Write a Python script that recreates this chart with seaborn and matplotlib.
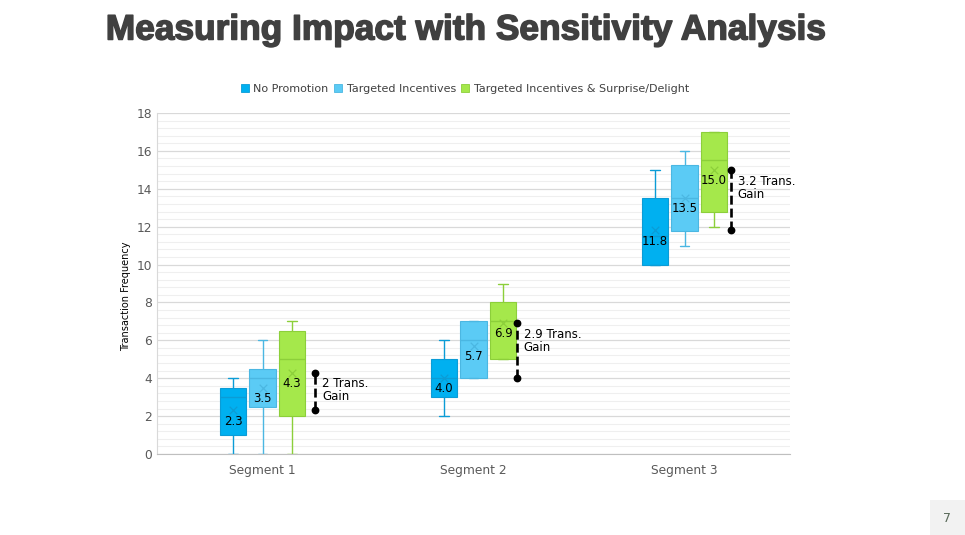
import numpy as np
import pandas as pd
import matplotlib.pyplot as plt
import matplotlib.patheffects as pe
import seaborn as sns
from matplotlib.patches import Patch, Rectangle
from matplotlib.ticker import MultipleLocator

SEGMENTS = ["Segment 1", "Segment 2", "Segment 3"]
GROUPS = ["No Promotion", "Targeted Incentives", "Targeted Incentives & Surprise/Delight"]
COLORS = ["#00B0F0", "#5BCBF5", "#A5E84B"]
EDGE_COLORS = ["#0B9CD6", "#4BB7E2", "#8CCF3A"]

# five-number summaries: min, q1, median, q3, max
NO_PROMO = [[0, 1, 3, 3.5, 4], [2, 3, 4, 5, 6], [10, 10, 11.5, 13.5, 15]]
TARGETED = [[0, 2.5, 4, 4.5, 6], [4, 4, 6, 7, 7], [11, 11.75, 13.5, 15.25, 16]]
SURPRISE = [[0, 2, 5, 6.5, 7], [5, 5, 7, 8, 9], [12, 12.75, 15.5, 17, 17]]

MEANS_NO_PROMO = [2.3, 4.0, 11.8]
MEANS_TARGETED = [3.5, 5.7, 13.5]
MEANS_SURPRISE = [4.3, 6.9, 15.0]

GAINS = ["2", "2.9", "3.2"]

rows = []
for group, summaries in zip(GROUPS, [NO_PROMO, TARGETED, SURPRISE]):
    for seg, vals in zip(SEGMENTS, summaries):
        for v in vals:
            rows.append({"Segment": seg, "Group": group, "Value": v})
df = pd.DataFrame(rows)

sns.set_style("white")
plt.rcParams["font.family"] = ["DejaVu Sans"]

fig = plt.figure(figsize=(9.65, 5.35), dpi=100)
ax = fig.add_axes([157 / 965, 1 - 454 / 535, 633 / 965, 341 / 535])

sns.boxplot(data=df, x="Segment", y="Value", hue="Group", order=SEGMENTS,
            hue_order=GROUPS, palette=COLORS, saturation=1, width=0.42, gap=0.1,
            whis=(0, 100), linewidth=0.9, showfliers=False, legend=False, ax=ax)

# recolour outlines per group and put the mean markers on the box centres
all_means = [MEANS_NO_PROMO, MEANS_TARGETED, MEANS_SURPRISE]
for cont, edge, means in zip(ax.containers, EDGE_COLORS, all_means):
    for box in cont.boxes:
        box.set_edgecolor(edge)
        box.set_linewidth(0.8)
    for line in list(cont.whiskers) + list(cont.medians):
        line.set_color(edge)
        line.set_linewidth(1.0)
    for cap in cont.caps:
        cap.set_color(edge)
        cap.set_linewidth(1.0)
        cx = np.asarray(cap.get_xdata(), dtype=float)
        mid = cx.mean()
        cap.set_xdata(mid + (cx - mid) * 0.75)
    xs = []
    for box in cont.boxes:
        v = box.get_path().vertices[:, 0]
        xs.append((v.min() + v.max()) / 2)
    ax.scatter(xs, means, marker="x", s=30, color=edge, linewidths=0.9, zorder=5)
    for x, m in zip(xs, means):
        ax.annotate(f"{m:.1f}", (x, m), xytext=(0, -3), textcoords="offset points",
                    ha="center", va="top", fontsize=8.5, color="black", zorder=6)

# gain markers between no-promotion mean and full-programme mean
gain_offsets = [0.25, 0.205, 0.22]
for i, (low, high, gain) in enumerate(zip(MEANS_NO_PROMO, MEANS_SURPRISE, GAINS)):
    x = i + gain_offsets[i]
    ax.plot([x, x], [low, high], color="black", lw=1.9, linestyle=(0, (3.4, 1.5)), zorder=6)
    ax.plot([x, x], [low, high], "o", ms=4.6, color="black", zorder=7)
    ax.annotate(f"{gain} Trans.\nGain", (x, high), xytext=(5, -3.5),
                textcoords="offset points", ha="left", va="top", fontsize=8.5,
                color="black", linespacing=1.0)

ax.set_xlim(-0.5, 2.5)
ax.set_ylim(0, 18)
ax.yaxis.set_major_locator(MultipleLocator(2))
ax.yaxis.set_minor_locator(MultipleLocator(0.4))
ax.grid(which="major", axis="y", color="#d9d9d9", lw=0.9)
ax.grid(which="minor", axis="y", color="#efefef", lw=0.8)
ax.set_axisbelow(True)
ax.tick_params(axis="both", which="both", length=0, labelsize=8.8, labelcolor="#595959")
ax.tick_params(axis="x", pad=7)
ax.set_xlabel("")
ax.set_ylabel("Transaction Frequency", fontsize=7, color="black")
ax.yaxis.set_label_coords(-0.041, 0.463)
for side in ["top", "right"]:
    ax.spines[side].set_visible(False)
ax.spines["left"].set_color("#d9d9d9")
ax.spines["bottom"].set_color("#bfbfbf")

handles = [Patch(facecolor=c, edgecolor=e, lw=0.6) for c, e in zip(COLORS, EDGE_COLORS)]
fig.legend(handles, GROUPS, loc="center", bbox_to_anchor=(465 / 965, 1 - 89 / 535), ncol=3,
           frameon=False, fontsize=8.05, handlelength=0.7, handleheight=0.7,
           handletextpad=0.4, columnspacing=0.5, labelcolor="#404040")

fig.text(466 / 965, 1 - 30 / 535, "Measuring Impact with Sensitivity Analysis",
         ha="center", va="center", fontsize=25.4, fontweight="bold", color="#404040",
         family=["Liberation Sans Narrow", "Liberation Sans", "DejaVu Sans"],
         path_effects=[pe.withStroke(linewidth=1.1, foreground="#404040")])

fig.patches.append(Rectangle((930 / 965, 0), 35 / 965, 35 / 535, transform=fig.transFigure,
                             facecolor="#f2f2f2", edgecolor="none"))
fig.text(947 / 965, 1 - 518 / 535, "7", ha="center", va="center", fontsize=9, color="#5a6a5a")

fig.savefig("out.png", dpi=100)
